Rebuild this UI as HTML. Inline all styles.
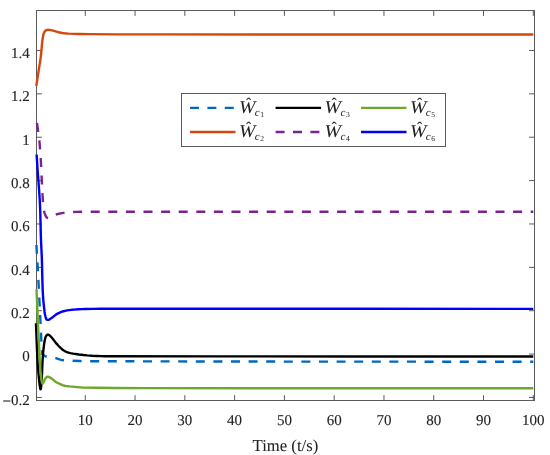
<!DOCTYPE html><html><head><meta charset="utf-8"><title>Plot</title><style>html,body{margin:0;padding:0;background:#fff;}svg{display:block;}</style></head><body>
<svg width="550" height="455" viewBox="0 0 550 455" text-rendering="geometricPrecision">
<rect x="0" y="0" width="550" height="455" fill="#fff"/>
<g fill="none" stroke="#5a5a5a" stroke-width="1">
<rect x="36.5" y="10.5" width="498.0" height="390.0"/>
<path d="M85.28,400.5 V395.1 M85.28,10.5 V15.9"/>
<path d="M135.06,400.5 V395.1 M135.06,10.5 V15.9"/>
<path d="M184.84,400.5 V395.1 M184.84,10.5 V15.9"/>
<path d="M234.62,400.5 V395.1 M234.62,10.5 V15.9"/>
<path d="M284.40,400.5 V395.1 M284.40,10.5 V15.9"/>
<path d="M334.18,400.5 V395.1 M334.18,10.5 V15.9"/>
<path d="M383.96,400.5 V395.1 M383.96,10.5 V15.9"/>
<path d="M433.74,400.5 V395.1 M433.74,10.5 V15.9"/>
<path d="M483.52,400.5 V395.1 M483.52,10.5 V15.9"/>
<path d="M533.30,400.5 V395.1 M533.30,10.5 V15.9"/>
<path d="M36.5,397.48 H41.9 M534.5,397.48 H529.1"/>
<path d="M36.5,354.10 H41.9 M534.5,354.10 H529.1"/>
<path d="M36.5,310.73 H41.9 M534.5,310.73 H529.1"/>
<path d="M36.5,267.35 H41.9 M534.5,267.35 H529.1"/>
<path d="M36.5,223.97 H41.9 M534.5,223.97 H529.1"/>
<path d="M36.5,180.60 H41.9 M534.5,180.60 H529.1"/>
<path d="M36.5,137.23 H41.9 M534.5,137.23 H529.1"/>
<path d="M36.5,93.85 H41.9 M534.5,93.85 H529.1"/>
<path d="M36.5,50.47 H41.9 M534.5,50.47 H529.1"/>
</g>
<g fill="none" stroke-width="2.40" stroke-linejoin="round" stroke-linecap="butt">
<path d="M36.40,245.00 L37.85,269.84 L40.10,313.88 L41.25,338.07 L41.65,347.50 L41.85,350.61 L42.15,352.27 L42.50,353.52 L42.85,354.28 L43.35,354.90 L44.10,355.54 L44.95,356.01 L46.40,356.56 L48.00,357.01 L50.40,357.46 L54.20,357.87 L55.65,358.10 L57.20,358.52 L61.05,359.80 L62.15,360.07 L63.15,360.22 L66.85,360.53 L71.15,360.76 L80.05,361.05 L87.55,361.18 L176.05,361.42 L280.05,361.58 L396.05,361.67 L533.30,361.70" stroke="#0068C0" stroke-dasharray="9.00 8.60" stroke-dashoffset="0.25"/>
<path d="M36.30,86.00 L38.75,70.02 L40.05,61.93 L40.60,58.14 L41.20,53.12 L42.25,41.37 L42.70,38.23 L43.15,35.69 L43.45,34.39 L43.70,33.60 L44.30,32.25 L44.85,31.36 L45.30,30.87 L46.15,30.32 L46.90,29.97 L47.55,29.81 L48.25,29.81 L49.20,29.90 L51.85,30.35 L53.00,30.64 L55.60,31.45 L58.75,32.24 L62.25,32.96 L64.45,33.29 L68.50,33.62 L74.95,33.92 L80.05,34.05 L88.55,34.16 L118.55,34.33 L148.55,34.40 L324.05,34.48 L533.30,34.50" stroke="#D6470E"/>
<path d="M36.00,323.30 L36.50,337.45 L37.10,352.02 L37.45,359.13 L37.90,366.23 L38.55,374.44 L39.35,382.64 L40.15,387.97 L40.40,389.00 L40.50,389.22 L40.60,389.30 L40.70,389.19 L40.80,388.89 L41.00,387.81 L41.50,383.39 L41.85,377.26 L42.50,361.99 L42.70,358.39 L43.25,351.44 L44.00,344.76 L44.35,342.41 L44.80,340.15 L45.30,338.00 L45.75,336.55 L46.05,335.96 L46.80,335.17 L47.40,334.76 L47.95,334.60 L48.25,334.63 L48.55,334.72 L49.25,335.14 L49.85,335.66 L51.70,337.49 L52.90,338.91 L55.30,342.13 L56.30,343.38 L58.65,346.02 L60.60,347.97 L62.00,349.21 L63.40,350.24 L64.75,351.07 L66.20,351.77 L68.35,352.55 L70.45,353.10 L73.10,353.58 L78.90,354.46 L83.55,355.03 L87.05,355.37 L92.05,355.74 L97.55,356.02 L101.05,356.15 L104.05,356.20 L220.05,356.38 L356.05,356.47 L533.30,356.50" stroke="#000000"/>
<path d="M36.80,122.00 L38.85,136.10 L39.30,139.90 L39.60,143.27 L40.55,156.06 L40.90,161.50 L42.10,187.46 L42.50,195.00 L43.10,203.08 L43.60,208.25 L43.90,210.30 L44.35,212.31 L44.85,213.93 L45.55,215.58 L46.15,216.72 L46.65,217.37 L47.55,217.98 L47.95,218.17 L48.30,218.27 L48.80,218.29 L49.35,218.16 L51.20,217.30 L52.10,216.78 L54.25,215.33 L55.35,214.78 L56.60,214.35 L58.00,213.96 L61.80,213.14 L63.55,212.86 L66.20,212.54 L68.80,212.27 L71.10,212.10 L76.40,211.90 L84.05,211.74 L90.05,211.70 L533.30,211.70" stroke="#7A2390" stroke-dasharray="9.00 8.60" stroke-dashoffset="16.61"/>
<path d="M36.50,289.30 L37.20,305.00 L38.00,325.00 L38.80,340.00 L39.50,356.16 L39.80,361.62 L40.40,369.77 L41.20,377.92 L41.45,379.72 L41.90,382.13 L42.15,383.11 L42.30,383.43 L42.40,383.50 L42.65,383.42 L42.90,383.23 L43.60,382.35 L43.90,381.72 L44.75,379.45 L44.95,379.07 L45.45,378.41 L46.10,377.62 L46.65,377.10 L47.15,376.80 L47.65,376.70 L48.40,376.81 L49.20,377.11 L50.00,377.54 L51.80,378.62 L52.80,379.36 L55.35,381.55 L55.95,381.97 L57.05,382.61 L58.35,383.28 L59.80,383.94 L62.50,385.09 L63.85,385.57 L64.65,385.77 L65.95,385.99 L69.30,386.40 L80.05,387.34 L82.55,387.51 L84.55,387.59 L98.05,387.79 L113.05,387.95 L147.05,388.10 L324.05,388.25 L533.30,388.30" stroke="#6CA82A"/>
<path d="M36.60,154.50 L37.65,170.71 L39.00,188.48 L39.65,198.51 L40.00,205.19 L40.30,213.26 L40.80,235.00 L41.05,241.48 L41.80,257.17 L42.00,263.58 L42.45,283.49 L42.75,291.05 L43.10,297.39 L43.35,300.65 L43.65,303.72 L44.60,311.99 L44.95,314.36 L45.60,317.03 L45.90,318.01 L46.20,318.78 L46.40,319.16 L46.60,319.42 L47.00,319.67 L47.40,319.84 L47.90,319.90 L48.55,319.79 L49.20,319.54 L50.00,319.11 L52.35,317.59 L54.85,315.46 L55.65,314.83 L56.75,314.14 L58.05,313.40 L59.20,312.82 L60.35,312.32 L61.95,311.73 L63.45,311.25 L65.15,310.82 L67.25,310.40 L69.10,310.11 L71.60,309.82 L73.90,309.61 L78.85,309.27 L82.05,309.10 L85.05,309.00 L93.05,308.85 L100.05,308.80 L352.05,308.82 L533.30,308.90" stroke="#0000F5"/>
</g>
<g font-family="Liberation Serif, serif" font-size="15.0" fill="#222222" stroke="#222222" stroke-width="0.1">
<text x="85.28" y="425.2" text-anchor="middle">10</text>
<text x="135.06" y="425.2" text-anchor="middle">20</text>
<text x="184.84" y="425.2" text-anchor="middle">30</text>
<text x="234.62" y="425.2" text-anchor="middle">40</text>
<text x="284.40" y="425.2" text-anchor="middle">50</text>
<text x="334.18" y="425.2" text-anchor="middle">60</text>
<text x="383.96" y="425.2" text-anchor="middle">70</text>
<text x="433.74" y="425.2" text-anchor="middle">80</text>
<text x="483.52" y="425.2" text-anchor="middle">90</text>
<text x="533.30" y="425.2" text-anchor="middle">100</text>
<text x="29.8" y="404.78" text-anchor="end"><tspan dy="0.9">−</tspan><tspan dy="-0.9">0.2</tspan></text>
<text x="29.8" y="361.40" text-anchor="end">0</text>
<text x="29.8" y="318.03" text-anchor="end">0.2</text>
<text x="29.8" y="274.65" text-anchor="end">0.4</text>
<text x="29.8" y="231.28" text-anchor="end">0.6</text>
<text x="29.8" y="187.90" text-anchor="end">0.8</text>
<text x="29.8" y="144.53" text-anchor="end">1</text>
<text x="29.8" y="101.15" text-anchor="end">1.2</text>
<text x="29.8" y="57.77" text-anchor="end">1.4</text>
</g>
<text x="285.4" y="451" text-anchor="middle" font-family="Liberation Serif, serif" font-size="16.7" fill="#222222" stroke="#222222" stroke-width="0.05">Time (t/s)</text>
<rect x="181.5" y="93.5" width="264" height="53" fill="#fff" stroke="#5a5a5a" stroke-width="1"/>
<path d="M190.0,107.9 H235.5" stroke="#0068C0" stroke-width="2.40" fill="none" stroke-dasharray="9 8.4"/>
<g font-family="Liberation Serif, serif" fill="#222222">
<text x="239.0" y="113.0" font-size="18" font-style="italic" textLength="16.4" lengthAdjust="spacingAndGlyphs">W</text>
<text x="245.9" y="108.5" font-size="16">ˆ</text>
<text x="254.8" y="115.9" font-size="11" font-style="italic">c</text>
<text x="260.3" y="117.0" font-size="7.6">1</text>
</g>
<path d="M190.0,132.0 H235.5" stroke="#D6470E" stroke-width="2.40" fill="none"/>
<g font-family="Liberation Serif, serif" fill="#222222">
<text x="239.0" y="137.0" font-size="18" font-style="italic" textLength="16.4" lengthAdjust="spacingAndGlyphs">W</text>
<text x="245.9" y="132.5" font-size="16">ˆ</text>
<text x="254.8" y="139.9" font-size="11" font-style="italic">c</text>
<text x="260.3" y="141.0" font-size="7.6">2</text>
</g>
<path d="M275.6,107.9 H321.1" stroke="#000000" stroke-width="2.40" fill="none"/>
<g font-family="Liberation Serif, serif" fill="#222222">
<text x="324.6" y="113.0" font-size="18" font-style="italic" textLength="16.4" lengthAdjust="spacingAndGlyphs">W</text>
<text x="331.5" y="108.5" font-size="16">ˆ</text>
<text x="340.4" y="115.9" font-size="11" font-style="italic">c</text>
<text x="345.9" y="117.0" font-size="7.6">3</text>
</g>
<path d="M275.6,132.0 H321.1" stroke="#7A2390" stroke-width="2.40" fill="none" stroke-dasharray="9 8.4"/>
<g font-family="Liberation Serif, serif" fill="#222222">
<text x="324.6" y="137.0" font-size="18" font-style="italic" textLength="16.4" lengthAdjust="spacingAndGlyphs">W</text>
<text x="331.5" y="132.5" font-size="16">ˆ</text>
<text x="340.4" y="139.9" font-size="11" font-style="italic">c</text>
<text x="345.9" y="141.0" font-size="7.6">4</text>
</g>
<path d="M361.0,107.9 H406.5" stroke="#6CA82A" stroke-width="2.40" fill="none"/>
<g font-family="Liberation Serif, serif" fill="#222222">
<text x="410.0" y="113.0" font-size="18" font-style="italic" textLength="16.4" lengthAdjust="spacingAndGlyphs">W</text>
<text x="416.9" y="108.5" font-size="16">ˆ</text>
<text x="425.8" y="115.9" font-size="11" font-style="italic">c</text>
<text x="431.3" y="117.0" font-size="7.6">5</text>
</g>
<path d="M361.0,132.0 H406.5" stroke="#0000F5" stroke-width="2.40" fill="none"/>
<g font-family="Liberation Serif, serif" fill="#222222">
<text x="410.0" y="137.0" font-size="18" font-style="italic" textLength="16.4" lengthAdjust="spacingAndGlyphs">W</text>
<text x="416.9" y="132.5" font-size="16">ˆ</text>
<text x="425.8" y="139.9" font-size="11" font-style="italic">c</text>
<text x="431.3" y="141.0" font-size="7.6">6</text>
</g>
</svg></body></html>
